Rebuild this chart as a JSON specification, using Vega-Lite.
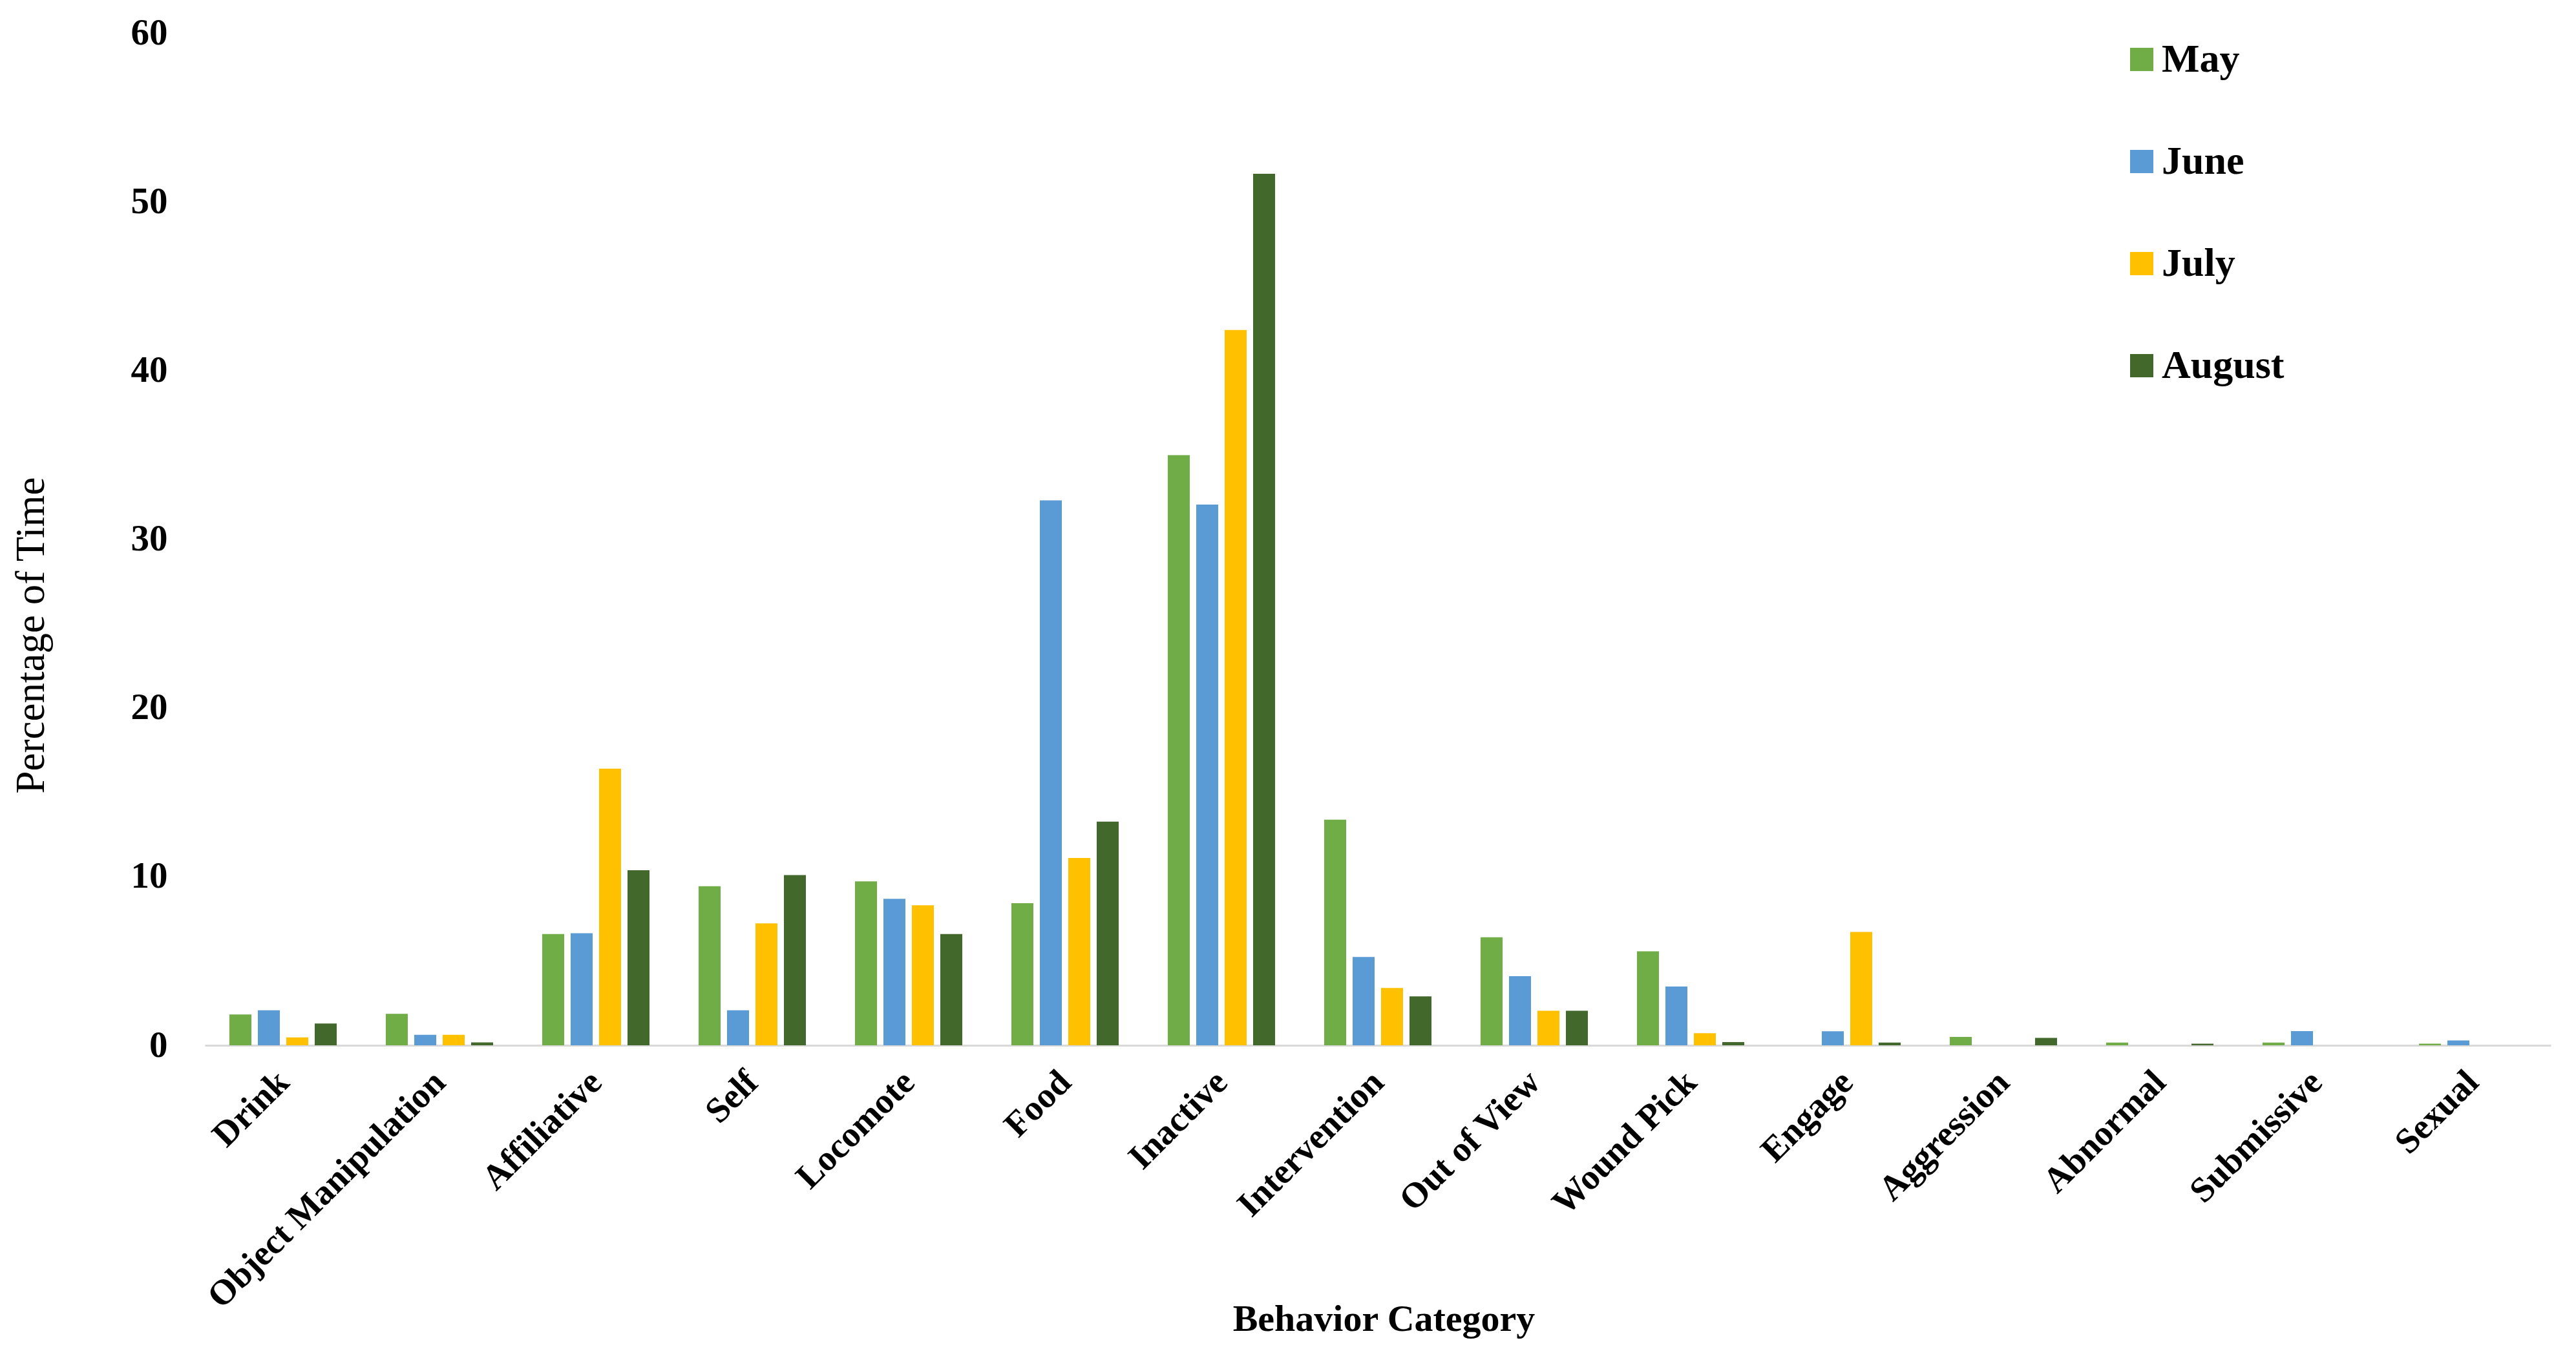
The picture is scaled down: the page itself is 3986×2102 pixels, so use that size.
{
  "$schema": "https://vega.github.io/schema/vega-lite/v6.json",
  "width": 3630,
  "height": 1567,
  "autosize": {"type": "none"},
  "padding": {"left": 317, "top": 51, "right": 39, "bottom": 484},
  "background": "white",
  "config": {
    "view": {"stroke": null},
    "font": "Liberation Serif"
  },
  "data": {
    "values": [
      {"behavior": "Drink", "month": "May", "value": 1.83},
      {"behavior": "Drink", "month": "June", "value": 2.08},
      {"behavior": "Drink", "month": "July", "value": 0.47},
      {"behavior": "Drink", "month": "August", "value": 1.29},
      {"behavior": "Object Manipulation", "month": "May", "value": 1.87},
      {"behavior": "Object Manipulation", "month": "June", "value": 0.62},
      {"behavior": "Object Manipulation", "month": "July", "value": 0.62},
      {"behavior": "Object Manipulation", "month": "August", "value": 0.17},
      {"behavior": "Affiliative", "month": "May", "value": 6.6},
      {"behavior": "Affiliative", "month": "June", "value": 6.64},
      {"behavior": "Affiliative", "month": "July", "value": 16.4},
      {"behavior": "Affiliative", "month": "August", "value": 10.38},
      {"behavior": "Self", "month": "May", "value": 9.43},
      {"behavior": "Self", "month": "June", "value": 2.08},
      {"behavior": "Self", "month": "July", "value": 7.23},
      {"behavior": "Self", "month": "August", "value": 10.09},
      {"behavior": "Locomote", "month": "May", "value": 9.72},
      {"behavior": "Locomote", "month": "June", "value": 8.68},
      {"behavior": "Locomote", "month": "July", "value": 8.3},
      {"behavior": "Locomote", "month": "August", "value": 6.6},
      {"behavior": "Food", "month": "May", "value": 8.42},
      {"behavior": "Food", "month": "June", "value": 32.3},
      {"behavior": "Food", "month": "July", "value": 11.1},
      {"behavior": "Food", "month": "August", "value": 13.26},
      {"behavior": "Inactive", "month": "May", "value": 34.98},
      {"behavior": "Inactive", "month": "June", "value": 32.05},
      {"behavior": "Inactive", "month": "July", "value": 42.4},
      {"behavior": "Inactive", "month": "August", "value": 51.65},
      {"behavior": "Intervention", "month": "May", "value": 13.37},
      {"behavior": "Intervention", "month": "June", "value": 5.24},
      {"behavior": "Intervention", "month": "July", "value": 3.4},
      {"behavior": "Intervention", "month": "August", "value": 2.9},
      {"behavior": "Out of View", "month": "May", "value": 6.4},
      {"behavior": "Out of View", "month": "June", "value": 4.1},
      {"behavior": "Out of View", "month": "July", "value": 2.05},
      {"behavior": "Out of View", "month": "August", "value": 2.05},
      {"behavior": "Wound Pick", "month": "May", "value": 5.57},
      {"behavior": "Wound Pick", "month": "June", "value": 3.48},
      {"behavior": "Wound Pick", "month": "July", "value": 0.72},
      {"behavior": "Wound Pick", "month": "August", "value": 0.19},
      {"behavior": "Engage", "month": "May", "value": 0},
      {"behavior": "Engage", "month": "June", "value": 0.83},
      {"behavior": "Engage", "month": "July", "value": 6.72},
      {"behavior": "Engage", "month": "August", "value": 0.16},
      {"behavior": "Aggression", "month": "May", "value": 0.5},
      {"behavior": "Aggression", "month": "June", "value": 0},
      {"behavior": "Aggression", "month": "July", "value": 0},
      {"behavior": "Aggression", "month": "August", "value": 0.44},
      {"behavior": "Abnormal", "month": "May", "value": 0.16},
      {"behavior": "Abnormal", "month": "June", "value": 0},
      {"behavior": "Abnormal", "month": "July", "value": 0},
      {"behavior": "Abnormal", "month": "August", "value": 0.1},
      {"behavior": "Submissive", "month": "May", "value": 0.16},
      {"behavior": "Submissive", "month": "June", "value": 0.84},
      {"behavior": "Submissive", "month": "July", "value": 0},
      {"behavior": "Submissive", "month": "August", "value": 0},
      {"behavior": "Sexual", "month": "May", "value": 0.1},
      {"behavior": "Sexual", "month": "June", "value": 0.29},
      {"behavior": "Sexual", "month": "July", "value": 0},
      {"behavior": "Sexual", "month": "August", "value": 0}
    ]
  },
  "mark": {"type": "bar"},
  "encoding": {
    "x": {
      "field": "behavior",
      "type": "nominal",
      "sort": ["Drink", "Object Manipulation", "Affiliative", "Self", "Locomote", "Food", "Inactive", "Intervention", "Out of View", "Wound Pick", "Engage", "Aggression", "Abnormal", "Submissive", "Sexual"],
      "scale": {"paddingInner": 0.314, "paddingOuter": 0.157},
      "axis": {
        "title": "Behavior Category",
        "titleFont": "Liberation Serif",
        "titleFontSize": 58,
        "titleFontWeight": "bold",
        "titleColor": "#000000",
        "titleX": 1824,
        "titleY": 424,
        "titleBaseline": "middle",
        "titleAnchor": null,
        "labelAngle": -45,
        "labelAlign": "right",
        "labelBaseline": "middle",
        "labelFont": "Liberation Serif",
        "labelFontSize": 55,
        "labelFontWeight": "bold",
        "labelColor": "#000000",
        "labelPadding": 48,
        "labelOverlap": false,
        "labelLimit": 0,
        "ticks": false,
        "domainColor": "#D9D9D9",
        "domainWidth": 3,
        "grid": false
      }
    },
    "xOffset": {
      "field": "month",
      "type": "nominal",
      "sort": ["May", "June", "July", "August"],
      "scale": {"paddingInner": 0.227, "paddingOuter": 0}
    },
    "y": {
      "field": "value",
      "type": "quantitative",
      "scale": {"domain": [0, 60], "nice": false},
      "axis": {
        "values": [0, 10, 20, 30, 40, 50, 60],
        "title": "Percentage of Time",
        "titleFont": "Liberation Serif",
        "titleFontSize": 63,
        "titleFontWeight": "normal",
        "titleColor": "#000000",
        "titleX": -269,
        "titleY": 932,
        "titleAngle": 270,
        "titleBaseline": "middle",
        "titleAnchor": null,
        "labelFont": "Liberation Serif",
        "labelFontSize": 57,
        "labelFontWeight": "bold",
        "labelColor": "#000000",
        "labelPadding": 58,
        "ticks": false,
        "domain": false,
        "grid": false
      }
    },
    "color": {
      "field": "month",
      "type": "nominal",
      "sort": ["May", "June", "July", "August"],
      "scale": {
        "domain": ["May", "June", "July", "August"],
        "range": ["#70AD47", "#5B9BD5", "#FFC000", "#43682B"]
      },
      "legend": {
        "title": null,
        "orient": "none",
        "legendX": 2966,
        "legendY": 10,
        "direction": "vertical",
        "padding": 0,
        "symbolType": "square",
        "symbolSize": 1296,
        "symbolStrokeWidth": 0,
        "labelFont": "Liberation Serif",
        "labelFontSize": 62,
        "labelFontWeight": "bold",
        "labelColor": "#000000",
        "labelOffset": 0,
        "rowPadding": 96,
        "labelLimit": 0
      }
    }
  }
}
